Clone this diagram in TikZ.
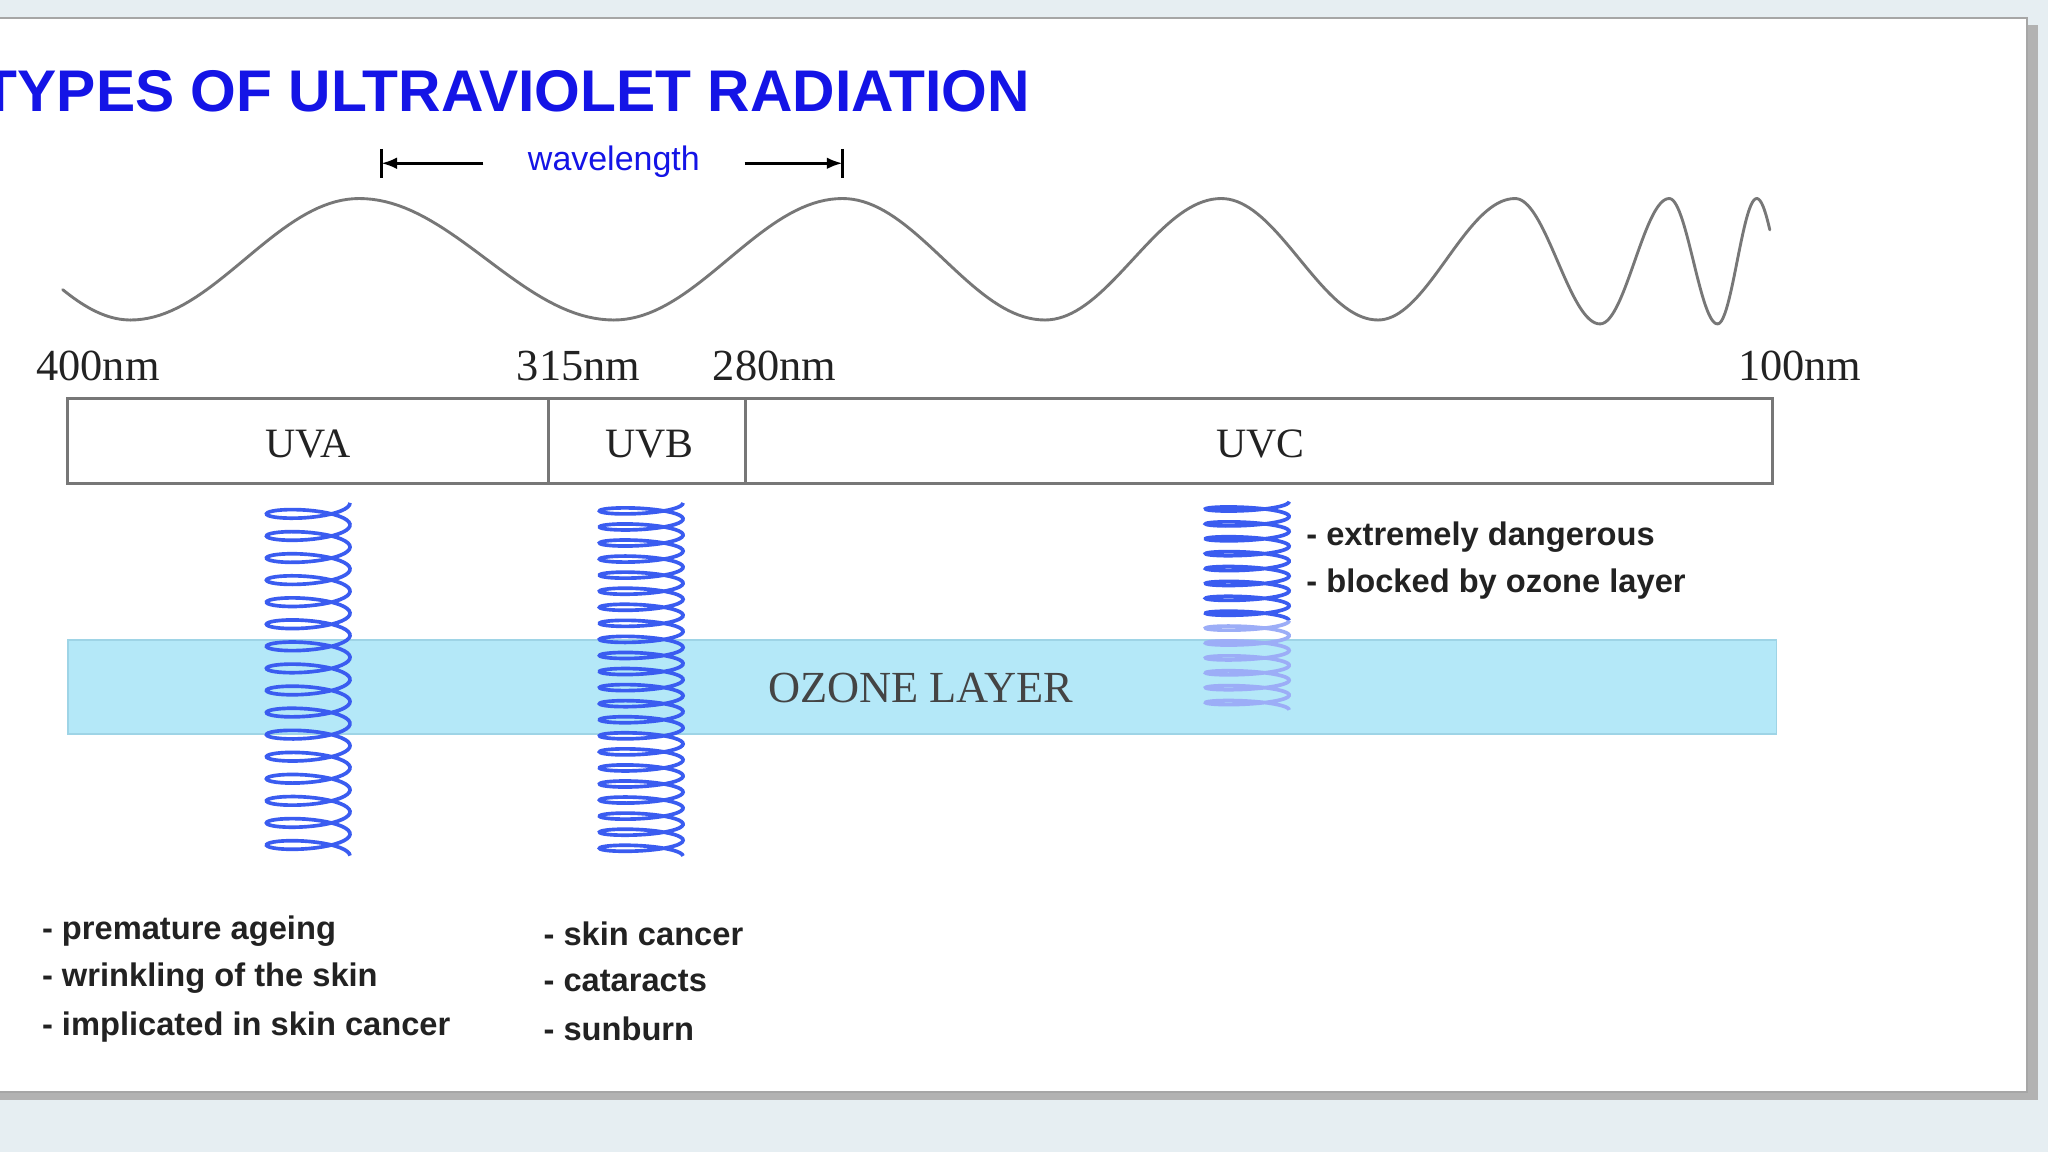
\documentclass[tikz,border=0pt]{standalone}
\usepackage{fontspec}
\usetikzlibrary{arrows.meta}
\setmainfont{Liberation Serif}
\setsansfont{Liberation Sans}
\definecolor{bg}{HTML}{E6EEF2}
\definecolor{ttl}{HTML}{1414E6}
\definecolor{coil}{HTML}{3A5CF0}
\definecolor{coilb}{HTML}{9CADF7}
\definecolor{oz}{HTML}{B4E8F8}
\definecolor{ozb}{HTML}{9ED4E6}
\definecolor{txt}{HTML}{222222}
\definecolor{ozt}{HTML}{444444}
\definecolor{wv}{HTML}{777777}
\tikzset{
  nm/.style={font=\fontsize{34}{36}\selectfont, text=txt},
  band/.style={font=\fontsize{32}{34}\selectfont, text=txt},
  bul/.style={font=\sffamily\bfseries\fontsize{25}{27}\selectfont, text=txt, anchor=west, inner sep=0},
  wave/.style={draw=wv, line width=2.2pt, line cap=round},
  coilst/.style={draw=coil, line width=2.8pt},
}
\begin{document}
\begin{tikzpicture}[x=1pt,y=-1pt]
\useasboundingbox (0,0) rectangle (1568,882);
\fill[bg] (0,0) rectangle (1568,882);
\fill[gray!60] (-5,19) rectangle (1560,842);
\filldraw[fill=white, draw=gray!70, line width=1.5pt] (-5,14) rectangle (1552,836);
\node[anchor=east, font=\sffamily\bfseries\fontsize{45}{48}\selectfont, text=ttl] (title) at (792,70) {TYPES OF ULTRAVIOLET RADIATION};
\node[font=\sffamily\fontsize{26}{28}\selectfont, text=ttl] (wl) at (470,124) {wavelength};
\coordinate (wa) at (292,125); \coordinate (wb) at (645,125);
\coordinate (wc) at (370,125); \coordinate (wd) at (570,125);
\draw[line width=2pt, -{Latex[length=12pt]}] (wc) -- (wa);
\draw[line width=2pt, -{Latex[length=12pt]}] (wd) -- (wb);
\draw[line width=2pt] (292,114) -- (292,136);
\draw[line width=2pt] (645,114) -- (645,136);
\foreach \xa/\ya/\xb/\yb in {100/245/275/152, 275/152/470/245, 470/245/645/152, 645/152/800/245, 800/245/935/152, 935/152/1055/245, 1055/245/1160/152, 1160/152/1225/248, 1225/248/1278/152, 1278/152/1315/248, 1315/248/1345/152}
  \draw[wave] plot[domain=0:1, samples=40, variable=\s] ({\xa+\s*(\xb-\xa)},{(\ya+\yb)/2+(\ya-\yb)/2*cos(180*\s)});
\draw[wave] plot[domain=-1:0, samples=20, variable=\s] ({100+\s*52},{198.5+46.5*cos(60*\s)});
\draw[wave] plot[domain=0:1, samples=20, variable=\s] ({1345+\s*10},{200-48*cos(60*\s)});
\node[nm] (n400) at (75,280) {400nm};
\node[nm] (n315) at (443,280) {315nm};
\node[nm] (n280) at (593,280) {280nm};
\node[nm] (n100) at (1378,280) {100nm};
\draw[wv, line width=2.2pt] (52,305) rectangle (1357,370);
\draw[wv, line width=2.2pt] (420,305) -- (420,370) (571,305) -- (571,370);
\node[band] (uva) at (236,340) {UVA};
\node[band] (uvb) at (497,340) {UVB};
\node[band] (uvc) at (965,340) {UVC};
\filldraw[fill=oz, draw=ozb, line width=1pt] (52,490) rectangle (1360,562);
\node[font=\fontsize{34}{36}\selectfont, text=ozt] (ozl) at (705,527) {OZONE LAYER};
\draw[coilst] plot[domain=0:16, samples=600, variable=\s] ({236+32*cos(360*\s)},{385+\s*16.9+7*sin(360*\s)});
\draw[coilst] plot[domain=0:22, samples=800, variable=\s] ({491+32*cos(360*\s)},{385+\s*12.3+5*sin(360*\s)});
\draw[coilst] plot[domain=0:8, samples=300, variable=\s] ({955+32*cos(360*\s)},{384+\s*11.4+4*sin(360*\s)});
\draw[coilst, draw=coilb] plot[domain=8:14, samples=250, variable=\s] ({955+32*cos(360*\s)},{384+\s*11.4+4*sin(360*\s)});
\node[bul] (c1) at (1000,411) {- extremely dangerous};
\node[bul] (c2) at (1000,447) {- blocked by ozone layer};
\node[bul] (a1) at (32,713) {- premature ageing};
\node[bul] (a2) at (32,749) {- wrinkling of the skin};
\node[bul] (a3) at (32,786) {- implicated in skin cancer};
\node[bul] (b1) at (416,715) {- skin cancer};
\node[bul] (b2) at (416,751) {- cataracts};
\node[bul] (b3) at (416,788) {- sunburn};
\end{tikzpicture}
\end{document}
